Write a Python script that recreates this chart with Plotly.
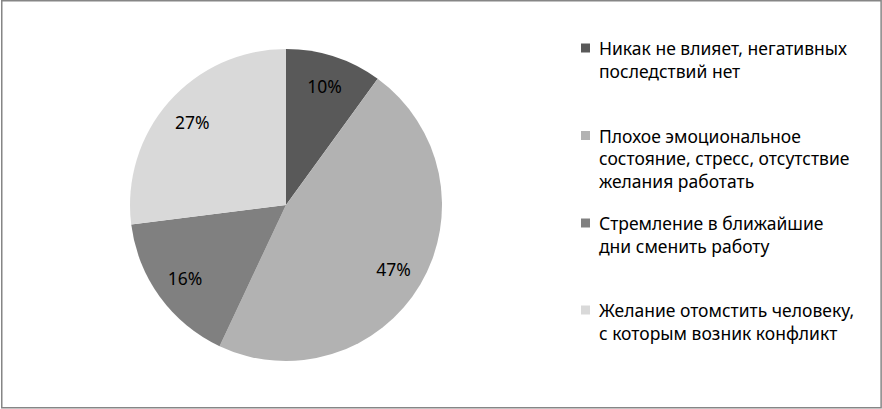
import plotly.graph_objects as go

# pie data
labels = [
    'Никак не влияет, негативных последствий нет',
    'Плохое эмоциональное состояние, стресс, отсутствие желания работать',
    'Стремление в ближайшие дни сменить работу',
    'Желание отомстить человеку, с которым возник конфликт',
]
values = [10, 47, 16, 27]
colors = ['#595959', '#b2b2b2', '#808080', '#d9d9d9']

# legend text, broken into lines as in the original
legend_lines = [
    ['Никак не влияет, негативных', 'последствий нет'],
    ['Плохое эмоциональное', 'состояние, стресс, отсутствие', 'желания работать'],
    ['Стремление в ближайшие', 'дни сменить работу'],
    ['Желание отомстить человеку,', 'с которым возник конфликт'],
]

W, H = 882, 409
FONT = 'Noto Sans'
FSIZE = 17.5

# pie position (pixels)
cx, cy, r = 286, 205, 156
dom_x = [(cx - r) / W, (cx + r) / W]
dom_y = [(H - cy - r) / H, (H - cy + r) / H]

fig = go.Figure()

# the solid pie
fig.add_trace(go.Pie(
    labels=labels, values=values, sort=False, direction='clockwise', rotation=0,
    marker=dict(colors=colors, line=dict(width=0)),
    textinfo='none', hoverinfo='skip', showlegend=False,
    domain=dict(x=dom_x, y=dom_y),
))

# transparent ring on top, only to place the percent labels at ~0.8 radius
fig.add_trace(go.Pie(
    labels=labels, values=values, sort=False, direction='clockwise', rotation=0,
    hole=0.6,
    marker=dict(colors=['rgba(0,0,0,0)'] * len(values), line=dict(width=0)),
    texttemplate='%{percent:.0%}', textposition='inside',
    insidetextorientation='horizontal',
    textfont=dict(family=FONT, size=FSIZE, color='#000000'),
    hoverinfo='skip', showlegend=False,
    domain=dict(x=dom_x, y=dom_y),
))

# hand-made legend so line spacing matches the original
first_line_y = [48, 135.5, 223, 310]   # px from top, middle of first line
line_gap = 22.6
text_x = 597
sq = 9
shapes = []
annotations = []
for i, lines in enumerate(legend_lines):
    y0 = first_line_y[i]
    shapes.append(dict(
        type='rect', xref='paper', yref='paper',
        x0=581 / W, x1=(581 + sq) / W,
        y0=1 - (y0 + sq / 2) / H, y1=1 - (y0 - sq / 2) / H,
        fillcolor=colors[i], line=dict(width=0),
    ))
    for j, line in enumerate(lines):
        annotations.append(dict(
            text=line, xref='paper', yref='paper',
            x=text_x / W, y=1 - (y0 + j * line_gap) / H,
            xanchor='left', yanchor='middle', showarrow=False,
            font=dict(family=FONT, size=FSIZE, color='#000000'),
        ))

# chart border
shapes.append(dict(
    type='rect', xref='paper', yref='paper', x0=0.002, x1=0.999, y0=0.003, y1=0.998,
    line=dict(color='#868686', width=1.5), fillcolor='rgba(0,0,0,0)',
))

fig.update_layout(
    width=W, height=H,
    margin=dict(l=0, r=0, t=0, b=0),
    paper_bgcolor='white', plot_bgcolor='white',
    shapes=shapes, annotations=annotations,
    font=dict(family=FONT),
)

# drop the browser's default body margin so the figure sits at the window corner
fig.write_html('out.html', config={'displayModeBar': False},
               post_script="document.body.style.margin='0';")
